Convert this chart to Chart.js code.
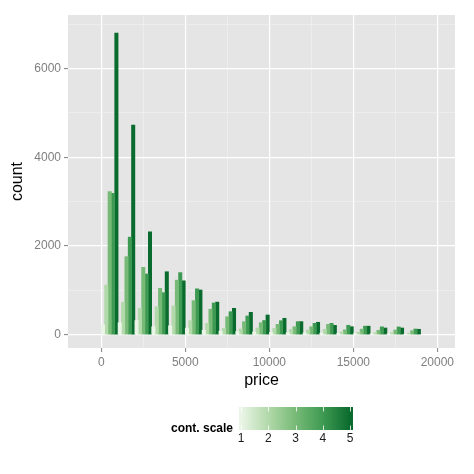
<!DOCTYPE html>
<html>
<head>
<meta charset="utf-8">
<script src="https://cdn.jsdelivr.net/npm/chart.js@4"></script>
<style>
  html, body { margin: 0; padding: 0; background: #fff; }
  #wrap { width: 474px; height: 474px; }
</style>
</head>
<body>
<div id="wrap"><canvas id="myChart" width="474" height="474"></canvas></div>
<script>
// bin centres (binwidth 1000) and counts per cut level 1..5
const binMids = [500, 1500, 2500, 3500, 4500, 5500, 6500, 7500, 8500, 9500,
                 10500, 11500, 12500, 13500, 14500, 15500, 16500, 17500, 18500];
const fair     = [220, 270, 320, 180, 200, 150, 100, 80, 70, 60, 50, 45, 40, 35, 25, 25, 20, 20, 15];
const good     = [1120, 730, 595, 630, 650, 316, 257, 144, 128, 150, 144, 120, 106, 122, 60, 55, 45, 45, 35];
const veryGood = [3225, 1760, 1520, 1045, 1230, 767, 575, 406, 293, 271, 234, 180, 180, 234, 110, 125, 100, 106, 90];
const premium  = [3190, 2200, 1370, 947, 1400, 1035, 715, 519, 422, 320, 316, 295, 257, 257, 212, 192, 177, 175, 128];
const ideal    = [6800, 4730, 2320, 1420, 1215, 1008, 735, 595, 505, 444, 370, 295, 280, 210, 180, 192, 151, 151, 122];

// gridlines: majors get labels, minors are just lighter lines
const xTicks = [0, 2500, 5000, 7500, 10000, 12500, 15000, 17500, 20000];
const xLabels = [0, 5000, 10000, 15000, 20000];
const yTicks = [0, 1000, 2000, 3000, 4000, 5000, 6000, 7000];
const yLabels = [0, 2000, 4000, 6000];

const scaleValues = [1, 2, 3, 4, 5];
const scaleColors = ['#EBF5E7', '#B2D9AA', '#77BA77', '#3E9A52', '#0A6B2E'];

const seriesList = [fair, good, veryGood, premium, ideal];
const FONT = '"Liberation Sans", Arial, sans-serif';

function toPoints(arr) {
    return arr.map(function (v, i) { return { x: binMids[i], y: v }; });
}

// grey panel behind the plot
const panelBg = {
    id: 'panelBg',
    beforeDraw(chart) {
        const a = chart.chartArea;
        const c = chart.ctx;
        c.save();
        c.fillStyle = '#E5E5E5';
        c.fillRect(a.left, a.top, a.right - a.left, a.bottom - a.top);
        c.restore();
    }
};

// colourbar legend under the plot
const colourBar = {
    id: 'colourBar',
    afterDraw(chart) {
        const c = chart.ctx;
        const x0 = 239, x1 = 353, y0 = 407, y1 = 430;
        const vx = function (v) { return 241 + (v - 1) * 27.3; };
        c.save();
        const g = c.createLinearGradient(vx(1), 0, vx(5), 0);
        scaleColors.forEach(function (col, i) { g.addColorStop(i / (scaleColors.length - 1), col); });
        c.fillStyle = g;
        c.fillRect(x0, y0, x1 - x0, y1 - y0);
        c.strokeStyle = 'rgba(255,255,255,0.8)';
        c.lineWidth = 1;
        scaleValues.forEach(function (v) {
            const x = Math.round(vx(v)) + 0.5;
            c.beginPath();
            c.moveTo(x, y0); c.lineTo(x, y0 + 4.5);
            c.moveTo(x, y1 - 4.5); c.lineTo(x, y1);
            c.stroke();
        });
        c.fillStyle = '#1a1a1a';
        c.font = '12px ' + FONT;
        c.textAlign = 'center';
        c.textBaseline = 'top';
        scaleValues.forEach(function (v) { c.fillText(String(v), vx(v), 433); });
        c.font = 'bold 12px ' + FONT;
        c.textAlign = 'right';
        c.textBaseline = 'middle';
        c.fillStyle = '#000';
        c.fillText('cont. scale', 233, 429);
        c.restore();
    }
};

function isMajor(c, labels) {
    return c.tick && labels.indexOf(c.tick.value) !== -1;
}

const ctx = document.getElementById('myChart');
const myChart = new Chart(ctx, {
    type: 'bar',
    data: {
        datasets: seriesList.map(function (arr, i) {
            return {
                label: String(scaleValues[i]),
                data: toPoints(arr),
                backgroundColor: scaleColors[i],
                borderWidth: 0,
                categoryPercentage: 1,
                barPercentage: 1
            };
        })
    },
    options: {
        responsive: false,
        animation: false,
        events: [],
        layout: { padding: { left: 0, top: 15, right: 19, bottom: 84 } },
        plugins: { legend: { display: false }, tooltip: { enabled: false } },
        scales: {
            x: {
                type: 'linear',
                offset: false,
                min: -1980,
                max: 21050,
                afterFit(s) { s.height = 42; },
                afterBuildTicks(s) { s.ticks = xTicks.map(function (v) { return { value: v }; }); },
                border: { display: false },
                grid: {
                    offset: false,
                    color: function (c) { return isMajor(c, xLabels) ? '#FFFFFF' : '#F2F2F2'; },
                    lineWidth: function (c) { return isMajor(c, xLabels) ? 1.2 : 0.6; },
                    tickColor: function (c) { return isMajor(c, xLabels) ? '#7F7F7F' : 'rgba(0,0,0,0)'; },
                    tickLength: 4,
                    tickWidth: 1
                },
                ticks: {
                    maxRotation: 0,
                    autoSkip: false,
                    padding: 3,
                    color: '#7F7F7F',
                    font: { family: FONT, size: 12 },
                    callback: function (v) { return xLabels.indexOf(v) !== -1 ? String(v) : ''; }
                },
                title: {
                    display: true,
                    text: 'price',
                    color: '#000',
                    padding: { top: 0, bottom: 0 },
                    font: { family: FONT, size: 16 }
                }
            },
            y: {
                min: -300,
                max: 7210,
                afterFit(s) { s.width = 68; },
                afterBuildTicks(s) { s.ticks = yTicks.map(function (v) { return { value: v }; }); },
                border: { display: false },
                grid: {
                    color: function (c) { return isMajor(c, yLabels) ? '#FFFFFF' : '#F2F2F2'; },
                    lineWidth: function (c) { return isMajor(c, yLabels) ? 1.2 : 0.6; },
                    tickColor: function (c) { return isMajor(c, yLabels) ? '#7F7F7F' : 'rgba(0,0,0,0)'; },
                    tickLength: 4,
                    tickWidth: 1
                },
                ticks: {
                    autoSkip: false,
                    padding: 3,
                    color: '#7F7F7F',
                    font: { family: FONT, size: 12 },
                    callback: function (v) { return yLabels.indexOf(v) !== -1 ? String(v) : ''; }
                },
                title: {
                    display: true,
                    text: 'count',
                    color: '#000',
                    padding: { top: 8, bottom: 0 },
                    font: { family: FONT, size: 16 }
                }
            }
        }
    },
    plugins: [panelBg, colourBar]
});
</script>
</body>
</html>
